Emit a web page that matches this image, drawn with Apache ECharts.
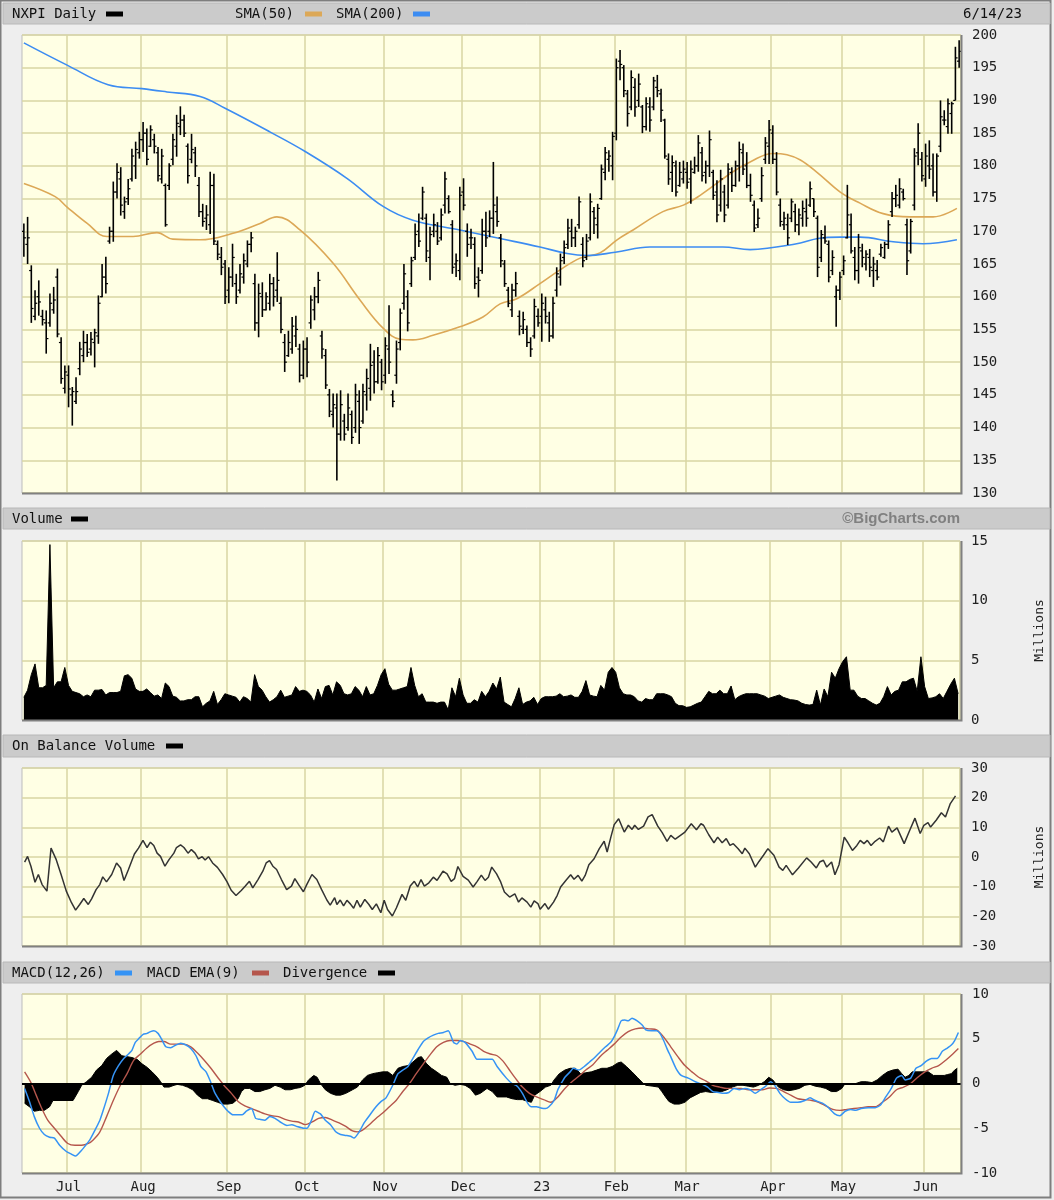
<!DOCTYPE html>
<html><head><meta charset="utf-8">
<script src="https://cdn.jsdelivr.net/npm/echarts@6/dist/echarts.min.js"></script>
<style>html,body{margin:0;padding:0;background:#eeeeee}#c{width:1054px;height:1200px}</style>
</head><body><div id="c"></div>
<script>
// ---- axis / tick labels ----
const monthStarts = [12,32,55,76,97,118,139,159,178,201,220,242];
const monthNames  = ['Jul','Aug','Sep','Oct','Nov','Dec','23','Feb','Mar','Apr','May','Jun'];

// ---- daily OHLC (trading-day index 0 = 6/14/22 ... 251 = 6/14/23) ----
const opens = [170,168,164,157,160,157,156,156,158,163,
153,146,148,145,144,149,151,153,152,153,
154,160,163,168.5,170,176,178,173,175,178,
180,182,184,185,183,184,182,178,177,177,
181,183,186,187,183,181,182,177,173,172,
171,177,168,166,165,161,163,162,161,163,
165,168,162,156,160,158,159,162,161,159,
153,151,152,154,152,148,152,156,158,160,
154,151,145,142,143,139,141,140,142,140,
144,141,145,146,150,147,150,148,152,145,
148,153,159,160,162,166,170,172,172,166,
170,170,169,174,175,171,165,164,176,170,
169,168,163,164,170,170,172,173,169,165,
161,158,161,157,155,155,153,154,157,157,
158,156,154,161,163,166,168,170,169,171,
168,166,169,173,171,175,179,181,180,185,
196,195,191,189,192,190,189,186,189,189,
192,191,187,181,179,180,177,178,179,178,
179,180,182,179,180,179,176,174,176,174,
179,177,180,182,180,177,174,171,175,181,
183,185,181,174,171,171,172,173,171,172,
173,174,175,172,166,169,168,164,160,161,
164,169,171,166,164,167,165,166,164,164,
166.5,166,168,173,175,174,176,171,167,174,
182,181,178,180,180,176,183,187,186,188,
190,196];
const highs = [171.2,172.2,164.8,161,162.5,158,157.9,160.5,161.5,164.3,
153.8,149.5,149.5,146.2,147.7,153.1,154.8,154.3,154.6,155.1,
160.2,165,166.1,170.7,177.6,180.4,179.8,175.3,178,182.6,
183.7,185.2,186.7,185.7,186.2,184.9,182.9,182.6,177.3,180.4,
184.9,187.8,189.1,187.8,183.4,184.9,182.9,178.3,174.2,174,
179.1,178.8,168.6,167.6,165.6,164.5,168.1,163.5,165,166.6,
168.6,169.9,163.5,162,162.2,160.7,163.5,163,166.8,160,
154.3,154.8,156.9,157.1,152.8,153.3,153.8,160.2,161.5,163.8,
154.8,152,145.9,145.2,145.2,145.7,142.1,145.2,142.6,146.7,
145.7,146.7,149,152.8,151.8,152.3,150.5,153.8,158.7,145.7,
153.3,158.2,165,161,166.1,171.2,172.7,176.8,172.7,170.7,
172.7,171.4,173.5,179.1,175.5,171.7,166.6,176.8,178.1,171.2,
170.4,169.1,164.5,171.9,173,173.2,180.6,175.3,169.6,165.6,
161.5,162,163.8,157.9,157.7,155.6,153.8,159.7,158.2,160.5,
160,157.7,160,164.5,166.6,168.6,171.9,171.9,170.7,175.3,
169.1,169.6,175.8,173.7,174.2,180.2,182.9,182.4,185.2,196.4,
197.7,195.4,191.6,194.6,193.4,194.1,189.3,190.5,190.5,193.6,
193.9,191.8,187.2,181.9,181.6,180.8,180.6,180.8,180.6,180.8,
181.4,184.7,182.9,180.8,185.4,179.4,177.8,179.4,177.1,180.4,
179.8,180.8,183.7,183.4,182.1,178.8,174.7,173.5,179.8,184.4,
187,186.2,182.1,175,173,172.7,175,174.2,173.5,174.7,
175,177.6,175,172.4,170.2,170.9,168.6,167.1,161.7,163.8,
166.3,177.1,172.7,167.6,169.6,168.1,167.1,167.3,166.1,165.6,
168.1,168.4,171.7,176,177.1,178.1,176.5,171.9,171.9,182.7,
186.5,182.1,183.4,183.9,181.9,181.9,190,188.5,190.3,189.8,
198.2,199.2];
const lows = [166.1,165,156,156.4,157.1,155.6,151.3,155.4,157.4,153.8,
146.7,145.2,143.1,140.3,143.6,148,150,150.8,151,149.2,
152.8,159.9,160.5,168.1,168.4,175,172.4,171.9,174,177.6,
178,181.1,182.1,180.1,182.9,181.9,177.6,177.3,170.7,176.3,
180.1,181.4,184.7,184.4,177.3,180.4,178.3,172.2,170.7,170.2,
169.6,167.9,165.6,163.3,158.9,159,161.5,158.9,160.5,162,
164.5,166.8,154.8,153.8,156.9,157.9,157.9,158.5,159.2,154.4,
148.5,150.8,151.3,152.3,146.9,147.4,147.7,155.1,156.4,159,
150.5,145.9,141.6,140,131.9,138,138,139.5,137.5,139.2,
137.5,140.6,142.6,144.1,145.2,146.7,145.7,146.7,148.2,143.1,
146.7,151.8,158,154.7,161.5,165.6,167.6,171.7,165.3,162.5,
169.1,167.9,168.6,172.7,172.7,163.5,163,162.5,173.2,166.1,
167.3,161.2,159.9,163.5,167.6,169.1,169.6,170.7,164.5,161.5,
158.4,156.9,160,154.1,154.3,152.3,150.8,153.6,155.4,153.1,
155.9,153.1,153.6,160,161.7,165,167.3,167.6,167.6,170.4,
164.5,165.6,168.6,169.6,168.9,174.8,177.8,179.1,177.8,183.9,
193.1,190.5,186,188.5,187.5,189,185,185.4,185.2,188.5,
190.5,186.7,181.1,177.1,176,175.3,176.8,177.3,176.5,174.2,
178.8,179.1,177.6,177.3,178.3,174.8,171.4,173,171.4,173.5,
176,176.8,177.6,178.6,176.6,174.5,169.9,170.5,174.5,180.3,
180.3,180.3,175.5,170.7,170.2,167.9,171.4,169.9,169.4,170.7,
170.7,173.7,172.2,163,165.3,168.1,162.2,163.3,155.4,159.5,
163.3,168.9,166.6,162.5,162,164.5,164,163,161.5,162.5,
166.1,165.8,167.3,172.2,173.7,173.5,174.7,163.3,166.6,173.2,
180.1,177.6,176.8,178,175.3,174.5,182.1,186.2,184.9,184.9,
190,195];
const closes = [169,169,158.2,159,159.2,156.5,153.6,159,159.5,154.3,
147.5,148.5,145.9,145.5,145.5,152,153,151.5,153.5,154.5,
159,163,162,170,176,179,174,174.5,176.5,181.5,
182.5,184,185,181,185.5,183,178.5,181.5,171,180,
184,186.5,187,185,178.5,182.5,180,173,171.5,172.5,
177,168.5,166.5,164.5,160,163,166,160,163.5,165.5,
168,169,156,160.5,158,160,162,160,162.5,155,
150,153,155.5,155,148,152,150,159.5,160,162.5,
152,146.5,142.5,143.5,139,143.5,139,143,138.5,145,
140,145.5,147.5,149.5,147,151,147,152.5,150,144,
152,157.5,163.5,156,165.5,169.5,168.5,176,167,169.5,
171,168.5,172.5,178,173,164.5,165.5,175.5,174,168,
169,162,162.5,170,169,172,174,171.5,165.5,162,
159,161,162,155.5,156.5,153,152,158.5,156,159,
157,154,159,163.5,165.5,167.5,170.5,169,170,174.5,
165.5,168.5,174.5,172,173.5,179.5,182,181.5,184.5,195,
195.5,191.5,188,193.5,189,192.5,186,189.5,187,193,
191.5,188.5,181.5,178,180.5,176,179,179.5,177.5,179.5,
180,183.5,178.5,180,184,175.5,172.5,178,172.5,179.5,
177,180,182.5,179.5,177,175.5,170.5,172,178.5,183.5,
185.5,181,176,171.5,172,169,174.5,171,172.5,173.5,
172,176.5,173,164.5,169.5,168.5,163,166,161,163,
165.5,172.5,167,164,167.5,166,166.5,164.5,165,163,
167.5,168,171,175,175.5,176.5,175,165.5,171.5,181.5,
185,178.5,181.5,179.5,176,181.5,187.5,187,189.5,189.5,
196.5,197.5];

// ---- moving averages, read at sample points: [day index, value] ----
const sma50 = [[0,177.3],[8.4,175.3],[11.6,173.7],[17,171.2],[22.3,169.2],[29.3,169.2],[35.7,169.8],[40,168.8],[47.3,168.7],[56.1,169.7],[63.4,171.2],[67.9,172.2],[74.1,170.2],[83,165.1],[90.2,159.5],[96.4,155.2],[101,153.5],[104.4,153.4],[109.8,154.1],[117,155.4],[123.2,156.9],[127.8,158.9],[132.3,159.7],[138.5,162],[143.9,164.1],[149.3,165.9],[154.6,166.7],[159.2,168.7],[163.5,170.2],[171.5,173],[177,174],[181.5,175.5],[190.3,179.1],[194.9,180.6],[201,181.9],[204.8,181.7],[208.4,180.9],[213.1,178.9],[219.1,176],[224.4,174.3],[230.6,172.7],[237.8,172.2],[244,172.2],[250.4,173.5]];
const sma200 = [[0,198.8],[11.6,195.4],[22.6,192.4],[31.7,191.8],[38.4,191.3],[47.3,190.6],[54,188.8],[66,185.2],[75.5,182.2],[86.7,178.1],[96.4,173.8],[104.4,171.7],[117,170.2],[127.8,168.9],[138.5,167.6],[145.8,166.6],[151.1,166.3],[158.7,166.8],[168,167.6],[177,167.6],[187.6,167.6],[194.9,167.2],[199.5,167.4],[208.4,168.2],[213.1,168.9],[219.1,169.1],[224.4,169.1],[233.3,168.4],[241.3,168.1],[250.4,168.7]];

// ---- volume (millions), daily ----
const volume = [1.9,2.5,3.8,4.7,2.7,2.7,2.9,14.7,2.7,3.2,
3.2,4.4,2.9,2.4,2.3,2.2,1.95,2.1,1.95,2.5,
2.5,2.55,2.1,2.3,2.3,2.3,2.4,3.7,3.8,3.5,
2.6,2.4,2.4,2.6,2.3,2.0,2.1,1.8,3.1,2.8,
2.0,1.9,1.6,1.6,1.7,1.7,1.95,1.95,1.1,1.4,
1.6,2.4,1.3,1.7,2.2,2.1,2.0,1.9,1.5,1.95,
1.8,1.5,3.8,2.8,2.5,1.95,1.5,1.7,1.95,2.5,
1.9,2.0,2.1,2.8,2.4,2.5,2.4,2.1,1.5,2.6,
1.8,2.8,2.9,2.1,3.2,2.9,2.2,2.1,2.2,2.8,
2.5,1.95,2.8,2.1,2.2,2.9,3.8,4.3,3.0,2.5,
2.5,2.6,2.7,2.8,4.4,2.9,1.95,2.2,1.5,1.5,
1.5,1.4,1.5,1.5,0.85,2.7,1.95,3.5,2.1,1.4,
1.4,1.7,1.5,2.4,1.95,2.4,3.1,2.6,3.6,1.5,
1.3,1.1,1.8,2.7,1.3,1.5,1.6,1.9,1.3,1.8,
1.95,1.95,1.95,2.0,2.2,1.95,2.0,2.1,1.9,1.9,
2.4,3.3,2.1,2.0,1.95,2.9,2.5,4.0,4.4,4.0,
2.7,2.2,2.1,2.1,1.95,1.6,1.5,1.8,1.7,1.7,
2.2,2.2,2.2,2.1,1.95,1.4,1.2,1.2,1.06,1.1,
1.25,1.4,1.5,1.95,2.4,2.2,2.2,2.5,2.2,2.2,
2.85,1.7,1.95,2.1,2.2,2.2,2.2,2.2,2.1,2.0,
1.8,1.9,2.0,2.1,1.9,1.8,1.7,1.67,1.6,1.4,
1.3,1.25,1.3,2.5,1.25,2.6,1.95,4.0,3.5,4.3,
4.9,5.3,2.5,2.5,2.0,1.8,1.8,1.6,1.4,1.25,
1.4,1.95,2.8,2.1,2.4,2.5,3.2,3.2,3.4,3.5,
2.4,5.3,2.8,1.8,1.85,1.95,2.2,1.8,2.4,3.0,
3.5,2.2];

// ---- On Balance Volume (millions): [day index, value] ----
const obv = [[0.2,-1.7],[1.0,0.2],[1.9,-3.1],[3.0,-8.5],[3.9,-5.9],[4.9,-9.3],[6.2,-11.5],[7.3,3.0],[8.7,-0.9],[10.0,-5.9],[11.4,-11.5],[12.8,-15.4],[13.9,-17.9],[15.0,-16],[16.1,-14],[17.3,-16],[18.2,-14.1],[19.4,-11],[20.4,-9.3],[21.2,-6.7],[22.2,-8.4],[23.6,-5.9],[24.9,-2],[26.0,-3.7],[26.9,-7.9],[28.1,-4.2],[29.7,1.0],[30.8,3.0],[32.0,5.6],[33.1,3.2],[34.0,5.0],[34.9,3.9],[35.8,1.3],[36.7,0.2],[37.9,-3.1],[39.0,-0.9],[40.3,1.3],[41.0,3.2],[42.1,4.1],[43.0,3.2],[44.1,1.3],[45.0,2.5],[46.0,1.3],[46.9,-0.6],[47.9,0.1],[48.7,-1],[49.6,0.1],[50.7,-2],[52.0,-3.5],[53.4,-5.9],[54.6,-8.4],[55.7,-11.2],[57.0,-13],[58.4,-11.3],[59.5,-9.8],[60.6,-8.2],[61.5,-10.4],[62.9,-7.6],[64.2,-4.8],[65.1,-2],[66.0,-1.2],[66.9,-3.1],[67.9,-4.2],[69.2,-7.6],[70.6,-11],[71.9,-9.8],[72.8,-7.3],[73.9,-9.5],[75.1,-11.7],[76.0,-9.3],[77.4,-5.9],[78.7,-7.6],[80.0,-11],[81.4,-14.5],[82.3,-16.2],[83.5,-13.7],[84.1,-16],[85.0,-14.5],[85.9,-16.5],[86.8,-14.6],[87.7,-15.8],[88.6,-17.3],[89.5,-14.6],[90.4,-16.9],[91.6,-14.3],[92.7,-16],[93.6,-17.7],[94.7,-15.8],[95.9,-18.8],[96.8,-14.6],[97.7,-17.7],[99.0,-19.9],[100.1,-17.1],[101.6,-12.6],[102.6,-14.6],[103.8,-9.8],[104.9,-8.2],[105.8,-10.1],[106.7,-7.6],[107.6,-9.8],[108.8,-8.7],[110.0,-6.8],[111.0,-7.9],[112.6,-4.8],[113.7,-5.7],[114.8,-8.2],[115.7,-7.3],[116.6,-3.2],[118.0,-6.5],[119.4,-7.8],[120.7,-10.1],[121.8,-8.2],[122.9,-6.1],[123.9,-7.9],[124.8,-6.8],[125.7,-3.4],[127.0,-5.7],[128.1,-8.4],[129.1,-11.8],[130.5,-13.5],[131.9,-12.4],[132.9,-15.2],[133.8,-13.8],[135.2,-15.2],[136.2,-16.9],[137.1,-14.8],[138.1,-15.7],[138.7,-17.6],[140.0,-15.7],[140.9,-17.6],[142.3,-15.2],[143.3,-12.9],[144.2,-10.1],[145.6,-7.9],[146.9,-6.0],[147.8,-7.5],[148.9,-6.2],[149.9,-8.1],[150.8,-6.2],[151.8,-2.6],[153.2,-0.6],[154.6,2.8],[155.9,5.3],[156.7,1.7],[157.7,6.7],[158.6,10.9],[159.8,12.9],[161.3,8.4],[162.4,10.7],[163.4,9.3],[164.1,10.7],[165.1,9.3],[166.5,10.4],[167.7,13.5],[168.8,14.3],[170.3,10.4],[171.5,8.2],[172.8,5.3],[173.8,7.3],[175.0,6.0],[176.4,7.3],[177.6,8.4],[179.3,11.2],[180.7,9.2],[181.9,11.2],[182.6,10.7],[184.0,7.5],[185.4,4.8],[186.4,6.7],[187.6,4.8],[188.7,6.2],[189.7,3.9],[190.6,4.5],[191.9,2.8],[193.0,1.1],[193.7,3.0],[194.9,1.1],[196.5,-3.4],[197.5,-1.5],[198.7,0.6],[199.9,2.8],[201.5,0.6],[202.9,-3.4],[203.9,-4.5],[204.8,-2.8],[206.5,-6.0],[208.1,-3.7],[210.3,-0.3],[211.5,-1.7],[212.9,-3.7],[213.8,-1.7],[214.8,-1.1],[215.7,-3.4],[217.0,-1.7],[217.9,-6.0],[219.0,-2.6],[220.4,6.7],[221.4,4.8],[222.6,2.2],[223.8,3.9],[224.7,5.6],[225.7,4.5],[226.6,5.6],[227.6,3.9],[228.7,5.3],[229.9,6.4],[230.9,5.1],[232.3,10.4],[233.2,8.4],[234.6,9.8],[236.5,4.5],[238.0,9.0],[239.4,13.1],[240.8,7.9],[241.8,10.7],[242.9,11.6],[243.6,10.1],[245.1,12.4],[246.5,14.9],[247.6,13.5],[248.9,18.0],[250.3,20.6]];

// ---- MACD(12,26), EMA(9) and divergence: [day index, value] ----
const macd = [[0.2,-0.55],[1.5,-2.0],[2.8,-3.7],[4.2,-5.0],[5.5,-5.7],[6.9,-6.0],[8.2,-6.1],[9.6,-6.9],[11.4,-7.6],[12.8,-7.9],[13.9,-8.1],[15.2,-7.6],[16.4,-7.0],[17.7,-6.3],[19.1,-5.2],[20.4,-4.1],[21.3,-3.0],[22.7,-1.1],[24.0,0.9],[25.4,2.0],[26.8,2.8],[28.1,3.3],[29.0,3.7],[29.9,4.6],[30.8,5.0],[32.0,5.5],[33.1,5.6],[34.0,5.8],[34.9,5.9],[36.0,5.6],[36.9,5.0],[38.1,4.1],[39.4,4.0],[40.8,4.3],[42.1,4.5],[43.5,4.3],[44.8,3.9],[46.2,3.1],[47.5,1.9],[48.9,1.3],[50.1,0.2],[51.1,-0.9],[52.5,-1.9],[53.7,-2.6],[54.8,-3.1],[56.1,-3.5],[57.5,-3.5],[58.6,-3.5],[59.7,-3.1],[61.1,-2.8],[62.2,-3.9],[63.3,-4.0],[64.7,-4.1],[66.0,-3.7],[67.4,-3.9],[68.8,-4.3],[70.6,-4.7],[71.9,-4.6],[73.3,-4.8],[75.1,-5.0],[76.0,-5.0],[77.2,-4.1],[78.2,-3.1],[79.6,-3.4],[80.9,-4.1],[82.3,-4.6],[83.7,-5.4],[85.0,-5.7],[86.4,-5.8],[87.7,-5.9],[88.6,-6.1],[90.0,-5.4],[91.3,-4.4],[92.7,-3.6],[94.5,-2.6],[95.9,-2.0],[97.2,-1.6],[99.0,-0.2],[100.4,1.1],[101.7,1.5],[103.1,1.9],[104.4,2.8],[105.8,3.8],[107.2,4.7],[108.5,5.1],[109.9,5.4],[111.2,5.6],[112.6,5.7],[113.9,5.9],[115.3,4.6],[116.2,4.4],[117.1,4.8],[118.4,4.6],[120.3,3.6],[121.6,2.7],[122.9,2.7],[124.3,2.7],[125.7,2.7],[127.0,1.9],[129.5,0.6],[131.0,0],[132.4,-0.3],[133.8,-1.1],[135.2,-2.2],[136.2,-2.6],[137.6,-2.6],[138.5,-2.7],[140.0,-2.8],[140.9,-2.6],[142.3,-1.9],[143.3,-0.7],[144.2,0],[145.2,0.7],[146.6,1.3],[147.5,1.7],[148.9,1.5],[150.4,1.9],[151.8,2.4],[153.2,2.9],[154.6,3.5],[156.1,4.1],[157.5,4.6],[158.4,5.2],[159.4,6.1],[160.3,7.0],[161.3,7.1],[162.2,7.0],[163.2,7.3],[164.6,7.0],[166.0,6.5],[166.9,6.0],[168.4,5.9],[169.8,5.9],[170.7,5.6],[171.7,4.8],[172.6,3.9],[173.6,3.0],[175.0,1.7],[176.4,0.9],[178.3,0.6],[180.2,0.2],[182.1,-0.1],[183.5,-0.4],[184.9,-0.9],[186.4,-1.0],[187.8,-1.1],[189.2,-1.0],[190.6,-0.55],[192.0,-0.7],[193.5,-0.55],[194.9,-0.7],[196.3,-1.1],[197.7,-0.7],[199.1,-0.3],[200.4,0.2],[201.5,-0.2],[202.9,-1.1],[204.3,-1.7],[205.8,-2.1],[207.7,-2.1],[209.6,-1.9],[211.0,-1.6],[212.4,-1.9],[214.3,-2.2],[215.7,-2.6],[217.6,-3.4],[219.0,-3.6],[220.4,-3.1],[221.9,-2.9],[223.3,-3.0],[224.7,-2.8],[226.6,-2.7],[228.5,-2.7],[229.9,-2.4],[231.3,-1.5],[232.8,-0.55],[234.2,0.6],[235.6,0.9],[236.5,0.4],[238.0,0.6],[239.4,1.7],[240.8,2.0],[242.2,2.5],[243.6,2.8],[245.1,2.8],[246.5,3.6],[247.6,3.9],[248.9,4.3],[249.8,4.8],[250.8,5.7]];
const macdEma = [[0.2,1.3],[1.9,0.1],[3.3,-1.3],[4.6,-2.6],[6.4,-4.1],[8.2,-5.0],[10.0,-5.9],[11.8,-6.7],[13.7,-6.9],[15.5,-6.9],[17.3,-6.7],[18.6,-6.3],[20.4,-5.4],[22.2,-3.7],[24.0,-1.9],[25.9,-0.2],[27.7,1.1],[29.5,2.6],[31.3,3.3],[33.1,4.0],[34.9,4.5],[36.2,4.7],[37.6,4.7],[39.4,4.4],[41.2,4.4],[43.0,4.4],[44.8,4.1],[46.6,3.4],[48.4,2.6],[50.2,1.7],[52.0,0.7],[53.9,-0.3],[55.7,-1.1],[57.5,-2.0],[59.3,-2.5],[61.1,-2.8],[62.9,-3.1],[64.7,-3.4],[66.5,-3.6],[68.3,-3.7],[70.1,-4.0],[71.9,-4.2],[73.7,-4.3],[75.5,-4.6],[77.4,-4.3],[79.1,-3.9],[80.9,-3.8],[82.8,-4.1],[84.6,-4.4],[86.4,-4.8],[88.2,-5.3],[89.5,-5.4],[90.9,-5.2],[92.7,-4.6],[94.5,-3.9],[96.3,-3.3],[98.1,-2.6],[99.9,-1.9],[101.7,-0.9],[103.5,0.0],[105.3,1.1],[107.2,2.2],[109.0,3.2],[110.8,4.1],[112.6,4.6],[114.4,4.8],[116.2,4.8],[118.0,4.7],[119.8,4.4],[121.6,4.1],[123.4,3.6],[125.2,3.3],[127.0,3.1],[128.6,2.5],[130.0,1.7],[131.9,0.6],[133.8,-0.4],[135.7,-1.1],[137.6,-1.5],[139.5,-1.8],[141.4,-2.1],[143.3,-1.5],[145.2,-0.55],[147.1,0.2],[148.9,0.8],[150.8,1.5],[152.7,2.1],[154.6,3.0],[156.5,3.7],[158.4,4.4],[160.3,5.2],[162.2,5.8],[164.1,6.1],[166.0,6.2],[167.9,6.1],[169.8,6.0],[171.7,5.2],[173.6,4.1],[175.5,3.0],[177.4,2.0],[179.3,1.3],[181.1,0.7],[183.0,0.3],[184.9,-0.2],[186.8,-0.4],[188.7,-0.55],[190.6,-0.55],[192.5,-0.55],[194.4,-0.7],[196.3,-0.7],[198.2,-0.7],[200.1,-0.5],[202.0,-0.55],[203.9,-0.9],[205.8,-1.3],[207.7,-1.7],[209.6,-1.8],[211.5,-1.9],[213.3,-2.1],[215.2,-2.5],[217.1,-2.9],[219.0,-3.0],[220.9,-2.9],[222.8,-2.8],[224.7,-2.7],[226.6,-2.6],[228.5,-2.6],[230.4,-2.1],[232.3,-1.5],[234.2,-0.7],[236.1,-0.4],[238.0,0],[239.9,0.7],[241.8,1.3],[243.6,1.7],[245.5,2.0],[247.4,2.6],[249.3,3.3],[250.8,3.9]];
const divergence = [[0.2,-2.2],[1.5,-2.6],[2.8,-3.1],[4.2,-3.0],[5.5,-3.0],[6.9,-2.6],[7.8,-1.9],[10.5,-1.9],[13.2,-1.9],[14.6,-0.9],[15.5,-0.2],[16.8,0.2],[18.2,0.7],[19.5,1.5],[20.9,2.0],[22.2,2.8],[23.6,3.3],[24.9,3.7],[26.3,3.1],[27.7,3.0],[29.0,2.9],[30.4,2.7],[31.7,2.2],[33.1,1.8],[34.4,1.3],[35.8,0.7],[36.7,0.2],[37.6,-0.4],[39.0,-0.4],[40.3,-0.2],[41.2,-0.1],[42.6,-0.2],[43.9,-0.4],[45.3,-0.7],[46.6,-1.3],[47.9,-1.7],[49.3,-1.7],[50.7,-1.9],[52.0,-2.1],[53.4,-2.3],[54.8,-2.3],[56.1,-2.2],[57.5,-1.7],[58.4,-0.9],[59.3,-0.55],[60.6,-0.55],[62.0,-0.9],[63.3,-0.9],[64.7,-0.7],[66.0,-0.55],[67.4,-0.2],[68.8,-0.4],[70.1,-0.7],[71.5,-0.7],[72.8,-0.55],[74.2,-0.45],[75.4,-0.2],[76.4,0.4],[77.8,0.9],[78.7,0.7],[79.6,0],[80.9,-0.7],[82.3,-1.1],[83.7,-1.3],[85.0,-1.3],[86.4,-1.1],[88.2,-0.7],[89.5,-0.4],[90.9,0.4],[92.2,0.9],[93.6,1.1],[94.9,1.2],[96.3,1.3],[97.7,1.3],[99.0,0.9],[100.4,1.7],[101.7,1.9],[103.1,2.0],[104.4,2.4],[105.8,2.9],[106.7,3.0],[108.1,2.2],[109.4,1.7],[110.8,1.3],[112.1,0.9],[113.5,0.7],[114.4,0],[115.7,-0.2],[117.1,-0.1],[118.4,-0.2],[119.8,-0.55],[121.2,-1.3],[122.5,-1.1],[124.3,-0.55],[125.7,-0.9],[127.0,-1.5],[129.5,-1.5],[131.0,-1.7],[132.4,-1.8],[133.8,-1.8],[135.2,-2.0],[136.2,-2.1],[137.1,-1.3],[138.5,-0.9],[140.0,-0.4],[141.4,-0.2],[142.3,0.4],[143.7,1.1],[145.2,1.5],[146.6,1.7],[148.0,1.7],[149.4,1.1],[150.8,1.2],[152.3,1.3],[153.7,1.5],[155.1,1.7],[156.5,1.7],[157.9,1.9],[159.4,2.3],[160.3,2.4],[161.7,1.9],[163.2,1.3],[164.6,0.7],[166.0,0.1],[166.9,-0.2],[168.8,-0.3],[170.3,-0.4],[171.2,-0.9],[172.2,-1.5],[173.1,-2.0],[174.5,-2.3],[175.9,-2.3],[177.4,-2.1],[178.8,-1.6],[180.2,-1.3],[181.6,-1.0],[183.0,-0.9],[184.5,-1.0],[185.9,-1.0],[187.3,-0.9],[188.7,-0.7],[190.1,-0.4],[191.6,-0.2],[193.0,-0.2],[194.4,-0.3],[195.8,-0.4],[197.2,-0.2],[198.7,0.2],[199.9,0.7],[201.0,0.4],[202.5,-0.4],[203.9,-0.7],[205.3,-0.8],[206.7,-0.7],[208.1,-0.55],[209.6,-0.2],[211.0,-0.1],[212.4,-0.3],[213.8,-0.4],[215.2,-0.55],[216.7,-0.9],[218.1,-0.9],[219.5,-0.55],[220.4,0],[223.3,0],[224.7,0.2],[226.1,0.2],[227.6,0.1],[229.0,0.4],[230.4,0.9],[231.8,1.3],[233.2,1.5],[234.6,1.6],[235.6,1.1],[236.5,0.7],[237.5,0.9],[238.4,1.3],[242.7,1.3],[244.1,0.9],[247.0,0.9],[247.9,1.0],[248.9,1.1],[249.8,1.5],[250.5,1.7]];

// ---------------- chart ----------------
const N = closes.length;
const cats = Array.from({length: N}, (_, i) => String(i));
const GRIDC = '#D9D6A3';
const MONO = '"DejaVu Sans Mono", monospace';
const PLOT_BG = '#FFFFE4';
const PLOT_L = 22, PLOT_R = 961;
const gridDefs = [
  {top: 35, height: 458},
  {top: 541, height: 179},
  {top: 768, height: 178},
  {top: 994, height: 179}
];
const grids = gridDefs.map(g => ({left: PLOT_L, right: 1054 - PLOT_R, top: g.top, height: g.height, show: true,
  backgroundColor: PLOT_BG, borderColor: '#BDBDBD', borderWidth: 1}));

const isMonth = (i) => monthStarts.indexOf(Number(i)) >= 0;
const xAxes = [];
grids.forEach((g, k) => {
  xAxes.push({type: 'category', gridIndex: k, data: cats, boundaryGap: true,
    axisLine: {show: false}, axisTick: {show: false},
    axisLabel: {show: k === 3, interval: (i) => isMonth(i),
      formatter: (v) => { const m = monthStarts.indexOf(Number(v)); return m >= 0 ? monthNames[m] : ''; },
      color: '#222', fontFamily: MONO, fontSize: 14, margin: 7},
    splitLine: {show: true, interval: (i) => isMonth(i), lineStyle: {color: GRIDC, width: 1.5}}});
  xAxes.push({type: 'value', gridIndex: k, min: -0.5, max: N - 0.5, show: false});
});
const yBase = {type: 'value', position: 'right', axisLine: {show: false}, axisTick: {show: false},
  axisLabel: {color: '#222', fontFamily: MONO, fontSize: 14, margin: 11},
  splitLine: {show: true, lineStyle: {color: GRIDC, width: 1.5}}};
const nameStyle = {name: 'Millions', nameLocation: 'middle', nameRotate: 90, nameGap: 73,
  nameTextStyle: {color: '#222', fontFamily: MONO, fontSize: 13}};
const yAxes = [
  Object.assign({}, yBase, {gridIndex: 0, min: 130, max: 200, interval: 5}),
  Object.assign({}, yBase, nameStyle, {gridIndex: 1, min: 0, max: 15, interval: 5}),
  Object.assign({}, yBase, nameStyle, {gridIndex: 2, min: -30, max: 30, interval: 10}),
  Object.assign({}, yBase, {gridIndex: 3, min: -10, max: 10, interval: 5})
];

const ohlc = closes.map((c, i) => [i, opens[i], highs[i], lows[i], c]);
function renderBar(params, api) {
  const x = api.value(0);
  const po = api.coord([x, api.value(1)]);
  const ph = api.coord([x, api.value(2)]);
  const pl = api.coord([x, api.value(3)]);
  const pc = api.coord([x, api.value(4)]);
  const st = {stroke: '#000', lineWidth: 1.6};
  return {type: 'group', children: [
    {type: 'line', shape: {x1: ph[0], y1: ph[1], x2: pl[0], y2: pl[1]}, style: st},
    {type: 'line', shape: {x1: po[0] - 2.2, y1: po[1], x2: po[0], y2: po[1]}, style: {stroke: '#000', lineWidth: 1.2}},
    {type: 'line', shape: {x1: pc[0], y1: pc[1], x2: pc[0] + 2.2, y2: pc[1]}, style: {stroke: '#000', lineWidth: 1.2}}
  ]};
}

function hdr(y, h) {
  return {type: 'rect', shape: {x: 3, y: y, width: 1047, height: h},
    style: {fill: '#CBCBCB', stroke: '#B8B8B8', lineWidth: 1}, z: 0};
}
function txt(x, y, s, opts) {
  return {type: 'text', z: 10, style: Object.assign({x: x, y: y, text: s, fill: '#111',
    font: '14px ' + MONO, verticalAlign: 'middle', align: 'left'}, opts || {})};
}
function sw(x, y, color) {
  return {type: 'rect', z: 10, shape: {x: x, y: y - 2.5, width: 17, height: 5}, style: {fill: color}};
}
// darker bottom/right plot edges (frame shading)
const edges = [];
gridDefs.forEach(g => {
  const b = g.top + g.height;
  edges.push({type: 'polyline', z: 20, shape: {points: [[PLOT_L, b + 0.5], [PLOT_R + 0.5, b + 0.5], [PLOT_R + 0.5, g.top]]},
    style: {stroke: '#808080', lineWidth: 2, fill: null}});
});
const C50 = '#DCA857', C200 = '#3C8CF2', CMACD = '#3593F5', CEMA = '#B5564C';

const option = {
  backgroundColor: '#EEEEEE',
  animation: false,
  grid: grids,
  xAxis: xAxes,
  yAxis: yAxes,
  graphic: {elements: [
    {type: 'rect', shape: {x: 0.5, y: 0.5, width: 1050, height: 1197}, style: {fill: 'none', stroke: '#7E7E7E', lineWidth: 2}, z: 0},
    hdr(3, 21), hdr(508, 21), hdr(735, 22), hdr(962, 21),
    txt(12, 14, 'NXPI Daily'), sw(106, 14, '#000'),
    txt(235, 14, 'SMA(50)'), sw(305, 14, C50),
    txt(336, 14, 'SMA(200)'), sw(413, 14, C200),
    txt(1022, 14, '6/14/23', {align: 'right'}),
    txt(12, 519, 'Volume'), sw(71, 519, '#000'),
    txt(960, 519, '\u00A9BigCharts.com', {align: 'right', fill: '#808080', font: 'bold 15px "Liberation Sans", Arial, sans-serif'}),
    txt(12, 746, 'On Balance Volume'), sw(166, 746, '#000'),
    txt(12, 973, 'MACD(12,26)'), sw(115, 973, CMACD),
    txt(147, 973, 'MACD EMA(9)'), sw(252, 973, CEMA),
    txt(283, 973, 'Divergence'), sw(378, 973, '#000')
  ].concat(edges)},
  series: [
    {type: 'line', name: 'SMA(50)', xAxisIndex: 1, yAxisIndex: 0, data: sma50, smooth: 0.4,
      showSymbol: false, symbol: 'none', lineStyle: {color: C50, width: 1.6}, z: 2},
    {type: 'line', name: 'SMA(200)', xAxisIndex: 1, yAxisIndex: 0, data: sma200, smooth: 0.4,
      showSymbol: false, symbol: 'none', lineStyle: {color: C200, width: 1.6}, z: 2},
    {type: 'custom', name: 'NXPI', xAxisIndex: 1, yAxisIndex: 0, data: ohlc, renderItem: renderBar,
      encode: {x: 0, y: [1, 2, 3, 4]}, clip: true, z: 3},
    {type: 'line', name: 'Volume', xAxisIndex: 3, yAxisIndex: 1, data: volume.map((v, i) => [i, v]),
      symbol: 'none', lineStyle: {color: '#000', width: 1}, areaStyle: {color: '#000', opacity: 1}},
    {type: 'line', name: 'OBV', xAxisIndex: 5, yAxisIndex: 2, data: obv, symbol: 'none',
      lineStyle: {color: '#333', width: 1.5}},
    {type: 'line', name: 'Divergence', xAxisIndex: 7, yAxisIndex: 3, data: divergence, symbol: 'none',
      lineStyle: {color: '#000', width: 1}, areaStyle: {color: '#000', opacity: 1},
      markLine: {silent: true, symbol: 'none', label: {show: false}, lineStyle: {color: '#000', width: 2, type: 'solid'},
        data: [{yAxis: 0}]}},
    {type: 'line', name: 'MACD EMA(9)', xAxisIndex: 7, yAxisIndex: 3, data: macdEma, smooth: 0.3, symbol: 'none',
      lineStyle: {color: CEMA, width: 1.4}},
    {type: 'line', name: 'MACD(12,26)', xAxisIndex: 7, yAxisIndex: 3, data: macd, smooth: 0.2, symbol: 'none',
      lineStyle: {color: CMACD, width: 1.5}}
  ]
};
const chart = echarts.init(document.getElementById('c'), null, {renderer: 'canvas'});
chart.setOption(option);
</script>
</body></html>
